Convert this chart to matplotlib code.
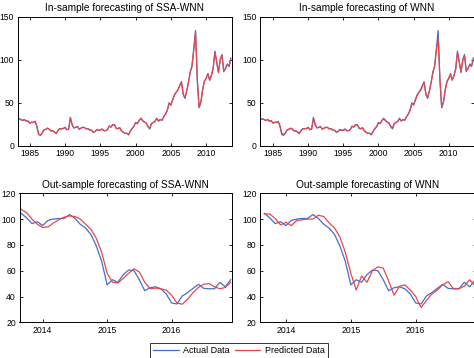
"""Crude oil price forecasting: SSA-WNN vs WNN, in-sample and out-sample."""

import matplotlib

matplotlib.use("Agg")

import matplotlib.pyplot as plt
import numpy as np
import pandas as pd

plt.rcParams["font.family"] = ["Liberation Sans", "DejaVu Sans"]

# quarterly in-sample values, Apr 1983 .. Jul 2013
actual_in = [
    30.5, 31.5, 30.0,
    29.5, 30.3, 28.5, 28.7,
    26.0, 27.5, 26.8, 28.5,
    22.0, 13.0, 12.0, 15.0,
    18.5, 18.8, 20.5, 19.0,
    17.0, 17.5, 15.5, 14.0,
    18.0, 20.0, 19.5, 20.0,
    21.5, 18.5, 19.0, 33.0,
    24.0, 20.5, 21.5, 22.5,
    19.0, 20.5, 21.5, 21.0,
    19.5, 20.0, 18.0, 18.0,
    15.5, 16.5, 19.0, 17.8,
    18.0, 19.5, 17.5, 17.5,
    18.5, 23.0, 21.5, 24.5,
    24.5, 20.0, 19.8, 21.0,
    17.0, 15.5, 14.2, 14.5,
    12.5, 17.0, 20.0, 22.5,
    27.0, 25.5, 29.5, 32.0,
    29.0, 27.5, 26.5, 22.0,
    19.5, 26.0, 27.0, 28.5,
    32.0, 28.5, 30.5, 29.5,
    34.0, 37.0, 41.0, 50.0,
    47.0, 53.5, 59.0, 62.0,
    65.0, 70.0, 74.5, 59.5,
    55.0, 64.0, 74.0, 86.0,
    93.0, 113.0, 134.0, 76.0,
    44.0, 50.0, 65.0, 75.0,
    78.0, 84.0, 76.0, 82.0,
    90.0, 110.0, 97.0, 85.0,
    100.0, 106.0, 86.0, 90.0,
    95.0, 92.0, 102.0,
]
pred_ssa_in = [
    30.8, 31.2, 30.3,
    29.6, 30.0, 28.8, 28.5,
    26.4, 27.2, 27.0, 28.2,
    22.6, 13.8, 12.4, 14.7,
    18.2, 19.0, 20.2, 19.3,
    17.2, 17.3, 15.8, 14.3,
    17.7, 19.8, 19.7, 20.2,
    21.2, 18.8, 19.3, 32.5,
    24.5, 20.8, 21.3, 22.3,
    19.3, 20.3, 21.4, 21.2,
    19.6, 19.8, 18.2, 18.1,
    15.8, 16.4, 18.8, 17.9,
    18.1, 19.3, 17.7, 17.4,
    18.7, 22.7, 21.7, 24.2,
    24.3, 20.4, 19.9, 20.8,
    17.3, 15.6, 14.4, 14.4,
    12.9, 16.8, 20.1, 22.3,
    26.6, 25.8, 29.3, 31.7,
    29.2, 27.4, 26.4, 22.5,
    19.9, 25.6, 27.1, 28.4,
    31.6, 28.8, 30.3, 29.7,
    33.8, 36.8, 41.2, 49.3,
    47.5, 53.0, 58.6, 62.3,
    64.6, 69.7, 74.0, 60.2,
    55.5, 63.6, 73.7, 85.4,
    92.6, 112.0, 132.0, 77.0,
    45.0, 50.4, 64.6, 74.8,
    78.3, 83.6, 76.5, 81.6,
    89.7, 109.0, 97.5, 85.5,
    99.5, 105.4, 86.6, 89.8,
    94.6, 92.4, 100.5,
]
pred_wnn_in = [
    31.0, 30.8, 30.6,
    29.2, 30.6, 28.2, 29.2,
    26.6, 27.0, 27.4, 27.8,
    23.5, 14.5, 13.0, 14.2,
    18.0, 19.4, 20.0, 19.6,
    17.5, 17.0, 16.2, 14.8,
    17.4, 19.5, 20.0, 19.8,
    21.0, 19.2, 19.6, 31.5,
    25.5, 21.0, 21.0, 22.0,
    19.8, 20.0, 21.2, 21.4,
    19.8, 19.6, 18.5, 17.8,
    16.2, 16.2, 18.5, 18.2,
    17.8, 19.0, 18.0, 17.2,
    19.0, 22.2, 22.0, 23.8,
    24.0, 21.0, 19.6, 20.5,
    17.6, 15.8, 14.6, 14.2,
    13.4, 16.4, 19.6, 22.0,
    26.0, 26.2, 29.0, 31.2,
    29.6, 27.2, 26.0, 23.0,
    20.5, 25.0, 27.4, 28.0,
    31.0, 29.2, 30.0, 30.0,
    33.5, 36.5, 41.5, 48.5,
    48.0, 52.5, 58.0, 62.5,
    64.0, 69.0, 73.5, 61.0,
    56.0, 63.0, 73.0, 84.5,
    92.0, 111.0, 124.0, 78.0,
    46.0, 51.0, 64.0, 74.0,
    78.5, 83.0, 77.0, 81.0,
    89.0, 108.0, 98.0, 86.0,
    99.0, 104.5, 87.5, 89.5,
    94.0, 93.0, 99.5,
]

# monthly out-sample values, Sep 2013 .. Dec 2016
actual_out = [
    104.4, 101.0, 96.5, 98.0, 95.0, 99.0, 100.0, 100.5, 100.5, 103.5,
    100.5, 96.0, 93.0, 88.0, 79.0, 67.0, 49.0, 53.0, 51.0, 57.0,
    60.5, 60.0, 53.0, 44.5, 46.8, 47.5, 46.0, 42.0, 35.0, 34.2,
    40.4, 43.0, 46.3, 49.4, 46.3, 46.0, 46.0, 51.0, 47.5, 53.0,
]
pred_ssa_out = [
    107.5, 105.0, 100.0, 96.0, 93.5, 94.0, 97.0, 99.5, 101.5, 102.5,
    102.0, 100.0, 96.0, 92.0, 85.0, 74.0, 58.0, 51.0, 50.5, 54.0,
    58.0, 61.5, 59.0, 51.0, 46.0, 46.5, 46.0, 45.0, 41.0, 35.0,
    34.0, 38.0, 43.0, 47.0, 49.5, 50.0, 47.5, 46.0, 47.0, 51.0,
]
pred_wnn_out = [
    104.0, 104.0, 100.5, 95.5, 97.5, 95.0, 99.0, 99.5, 100.0, 100.0,
    103.0, 102.0, 97.0, 93.0, 86.0, 74.0, 58.0, 45.0, 56.0, 51.0,
    60.0, 63.0, 62.0, 52.0, 41.0, 48.0, 49.0, 45.0, 40.0, 31.5,
    37.0, 42.0, 45.0, 49.0, 51.5, 46.0, 46.0, 48.0, 53.0, 48.0,
]


def decimal_years(dates):
    return np.array([d.year + (d.month - 1) / 12 for d in dates])


t_in = decimal_years(pd.date_range("1983-04-01", periods=len(actual_in), freq="QS"))
t_out = decimal_years(pd.date_range("2013-09-01", periods=len(actual_out), freq="MS"))

BLUE = "#4a6cc8"
RED = "#e8474a"
W, H = 474, 358

fig = plt.figure(figsize=(W / 100, H / 100), dpi=100)


def add_panel(left_px, top_px, width_px, height_px):
    return fig.add_axes([left_px / W, 1 - (top_px + height_px) / H, width_px / W, height_px / H])


panels = [
    (add_panel(17.5, 16.7, 214, 129), t_in, actual_in, pred_ssa_in,
     "In-sample forecasting of SSA-WNN", (1983.25, 2013.6), (0, 150), [0, 50, 100, 150],
     [1985, 1990, 1995, 2000, 2005, 2010]),
    (add_panel(260, 16.7, 214, 129), t_in, actual_in, pred_wnn_in,
     "In-sample forecasting of WNN", (1983.15, 2013.6), (0, 150), [0, 50, 100, 150],
     [1985, 1990, 1995, 2000, 2005, 2010]),
    (add_panel(19.5, 193.3, 212, 129), t_out, actual_out, pred_ssa_out,
     "Out-sample forecasting of SSA-WNN", (2013.64, 2016.93), (20, 120), list(range(20, 121, 20)),
     [2014, 2015, 2016]),
    (add_panel(260, 193.3, 216, 129), t_out, actual_out, pred_wnn_out,
     "Out-sample forecasting of WNN", (2013.6, 2016.93), (20, 120), list(range(20, 121, 20)),
     [2014, 2015, 2016]),
]

for ax, t, actual, pred, title, xlim, ylim, yticks, xticks in panels:
    ax.plot(t, actual, color=BLUE, lw=0.9, label="Actual Data")
    ax.plot(t, pred, color=RED, lw=0.9, label="Predicted Data")
    ax.set_xlim(*xlim)
    ax.set_ylim(*ylim)
    ax.set_yticks(yticks)
    ax.set_xticks(xticks)
    ax.set_title(title, fontsize=7.3, pad=4)
    ax.tick_params(direction="in", length=2.5, width=0.6, labelsize=6.2,
                   top=True, right=True, pad=2.5)
    for spine in ax.spines.values():
        spine.set_linewidth(0.7)

handles, labels = panels[0][0].get_legend_handles_labels()
fig.legend(handles, labels, loc="upper center", bbox_to_anchor=(239 / W, 1 - 338 / H),
           ncol=2, fontsize=6.5, frameon=True, fancybox=False, edgecolor="black",
           handlelength=2.8, handletextpad=0.5, columnspacing=0.6, borderpad=0.35)
fig.legends[0].get_frame().set_linewidth(0.7)

fig.savefig("out.png", dpi=100)
